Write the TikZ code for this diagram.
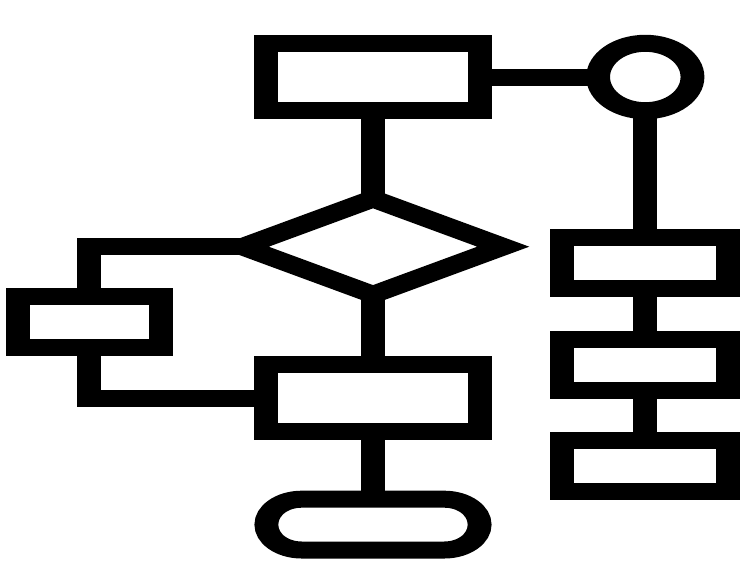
\documentclass[tikz,border=0pt]{standalone}
\usetikzlibrary{shapes.geometric}
\begin{document}
\begin{tikzpicture}[x=1pt,y=-1pt]
\path[fill=white,use as bounding box] (0,0) rectangle (754,570);
\begin{scope}[transform canvas={xscale=1.4}, x=0.714286pt,
  shp/.style={draw=black, line width=17pt, outer sep=0pt, inner sep=0pt},
  bigbox/.style={shp, rectangle, minimum width=152.5pt, minimum height=67.4pt},
  smallbox/.style={shp, rectangle, minimum width=118.6pt, minimum height=51pt},
  conn/.style={draw=black, line width=17pt, line join=miter}]
  \node[bigbox] (top) at (373,77) {};
  \node[shp, circle, minimum size=67.4pt] (circ) at (645.3,77) {};
  \node[shp, diamond, minimum width=186.1pt, minimum height=95.9pt] (dia) at (373,246.7) {};
  \node[shp, rectangle, minimum width=102pt, minimum height=50.8pt] (left) at (89.3,322.1) {};
  \node[bigbox] (mid) at (373,398.1) {};
  \node[shp, rectangle, rounded corners=25.2pt, minimum width=152.3pt, minimum height=50.8pt] (term) at (373,524.6) {};
  \node[smallbox] (r1) at (645.3,263.3) {};
  \node[smallbox] (r2) at (645.3,364.7) {};
  \node[smallbox] (r3) at (645.3,466.2) {};
  \draw[conn] (top.east) -- (circ.west);
  \draw[conn] (top.south) -- (dia.north);
  \draw[conn] (dia.south) -- (mid.north);
  \draw[conn] (mid.south) -- (term.north);
  \draw[conn] (circ.south) -- (r1.north);
  \draw[conn] (r1.south) -- (r2.north);
  \draw[conn] (r2.south) -- (r3.north);
  \draw[conn] (dia.west) -| (left.north);
  \draw[conn] (left.south) |- (mid.west);
\end{scope}
\end{tikzpicture}
\end{document}
